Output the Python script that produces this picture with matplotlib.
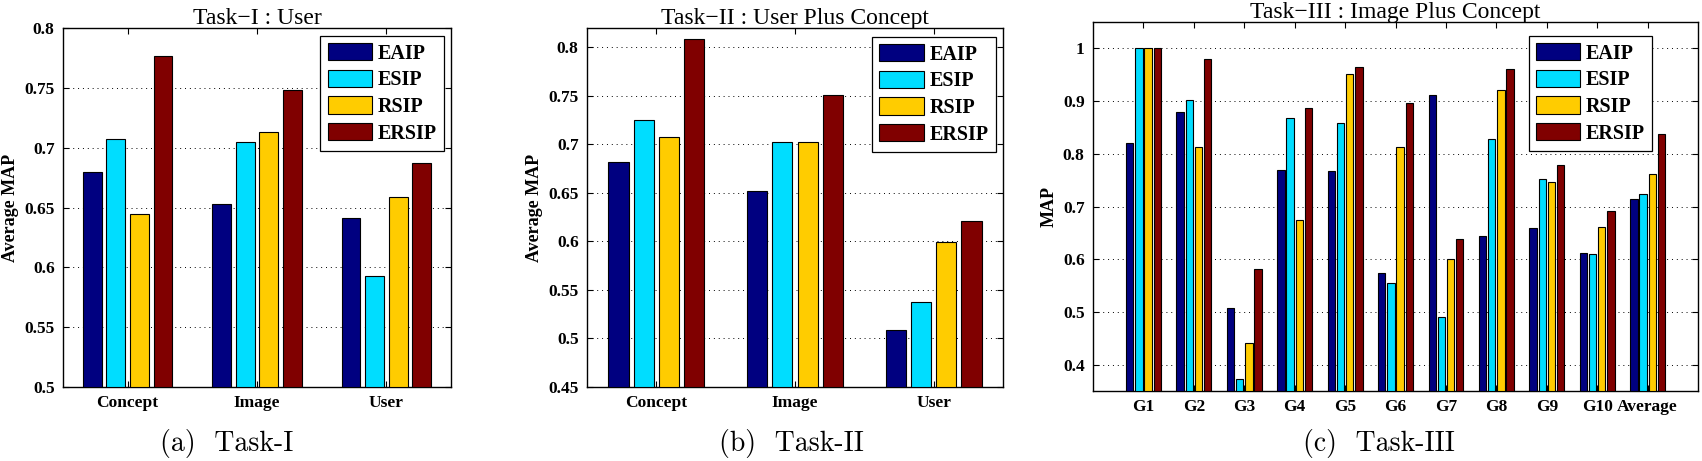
import numpy as np
import matplotlib
matplotlib.use('Agg')
import matplotlib.pyplot as plt

#-----------------------------------------------------------------------------------------------------------------------------------

methods = ['EAIP', 'ESIP', 'RSIP', 'ERSIP']
colours = ['#000080', '#00DDFF', '#FFCC00', '#800000']

cats_1 = ['Concept', 'Image', 'User']
task1_eaip = [0.680, 0.653, 0.641]
task1_esip = [0.707, 0.705, 0.593]
task1_rsip = [0.645, 0.713, 0.659]
task1_ersip = [0.777, 0.748, 0.687]

cats_2 = ['Concept', 'Image', 'User']
task2_eaip = [0.682, 0.652, 0.509]
task2_esip = [0.725, 0.703, 0.538]
task2_rsip = [0.708, 0.703, 0.599]
task2_ersip = [0.809, 0.751, 0.621]

cats_3 = ['G1', 'G2', 'G3', 'G4', 'G5', 'G6', 'G7', 'G8', 'G9', 'G10', 'Average']
task3_eaip = [0.820, 0.879, 0.508, 0.769, 0.767, 0.574, 0.912, 0.644, 0.659, 0.612, 0.714]
task3_esip = [1.000, 0.902, 0.372, 0.868, 0.858, 0.555, 0.491, 0.828, 0.752, 0.610, 0.724]
task3_rsip = [1.000, 0.813, 0.442, 0.674, 0.951, 0.813, 0.601, 0.922, 0.746, 0.661, 0.762]
task3_ersip = [1.000, 0.979, 0.582, 0.886, 0.964, 0.896, 0.639, 0.960, 0.779, 0.692, 0.837]

#-----------------------------------------------------------------------------------------------------------------------------------

serif = ['Liberation Serif', 'DejaVu Serif']
plt.rcParams['font.family'] = serif
plt.rcParams['font.weight'] = 'bold'

fig = plt.figure('tasks', figsize=(17.02, 4.61), dpi=100)


def bar_panel(rect, cats, series, ylim, yticks, ylabel, title, caption, capx, legpos):
    ax = fig.add_axes(rect)
    x = np.arange(1, len(cats) + 1)
    n = len(series)
    gw = n / (n + 1.5)
    step = gw / n
    for i, vals in enumerate(series):
        off = (i - (n - 1) / 2.0) * step
        ax.bar(x + off, np.array(vals) - ylim[0], bottom=ylim[0], width=step * 0.8,
               color=colours[i], edgecolor='black', linewidth=0.8, label=methods[i], zorder=3)
    pad = 0.5 if len(cats) < 5 else 1.0
    ax.set_xlim(1 - pad, len(cats) + pad)
    ax.set_ylim(*ylim)
    ax.set_xticks(x)
    ax.set_xticklabels(cats, fontsize=12.5, fontweight='bold')
    ax.set_yticks(yticks)
    ax.set_yticklabels([('%.2f' % v).rstrip('0').rstrip('.') for v in yticks],
                       fontsize=12.5, fontweight='bold')
    ax.tick_params(direction='in', top=True, right=True, length=4, width=0.8, pad=6)
    ax.yaxis.grid(True, linestyle=(0, (1, 4)), color='black', linewidth=0.7, zorder=0)
    ax.set_ylabel(ylabel, fontsize=13, fontweight='bold', labelpad=4)
    ax.set_title(title, fontsize=17, fontweight='normal', pad=3)
    for s in ax.spines.values():
        s.set_linewidth(1.0)
    leg = ax.legend(loc='upper right', bbox_to_anchor=legpos, borderaxespad=0,
                    fontsize=14.5, handlelength=2.2, handleheight=0.95,
                    labelspacing=0.3, handletextpad=0.3, borderpad=0.35,
                    fancybox=False, framealpha=1, edgecolor='black')
    leg.get_frame().set_linewidth(0.9)
    fig.text(capx, 0.038, caption, fontsize=20, family='cmr10', fontweight='normal',
             ha='center', va='center')
    return ax


bar_panel([0.0370, 0.1605, 0.2280, 0.7787], cats_1,
          [task1_eaip, task1_esip, task1_rsip, task1_ersip],
          (0.5, 0.8), np.arange(0.5, 0.801, 0.05), 'Average MAP',
          'Task\u2212I : User', '(a)  Task-I', 0.133, (0.982, 0.978))

bar_panel([0.3449, 0.1605, 0.2444, 0.7787], cats_2,
          [task2_eaip, task2_esip, task2_rsip, task2_ersip],
          (0.45, 0.82), np.arange(0.45, 0.801, 0.05), 'Average MAP',
          'Task\u2212II : User Plus Concept', '(b)  Task-II', 0.465, (0.983, 0.975))

bar_panel([0.6422, 0.1518, 0.3555, 0.8004], cats_3,
          [task3_eaip, task3_esip, task3_rsip, task3_ersip],
          (0.35, 1.05), np.arange(0.4, 1.001, 0.1), 'MAP',
          'Task\u2212III : Image Plus Concept', '(c)  Task-III', 0.810, (0.924, 0.962))

plt.savefig('out.png')
